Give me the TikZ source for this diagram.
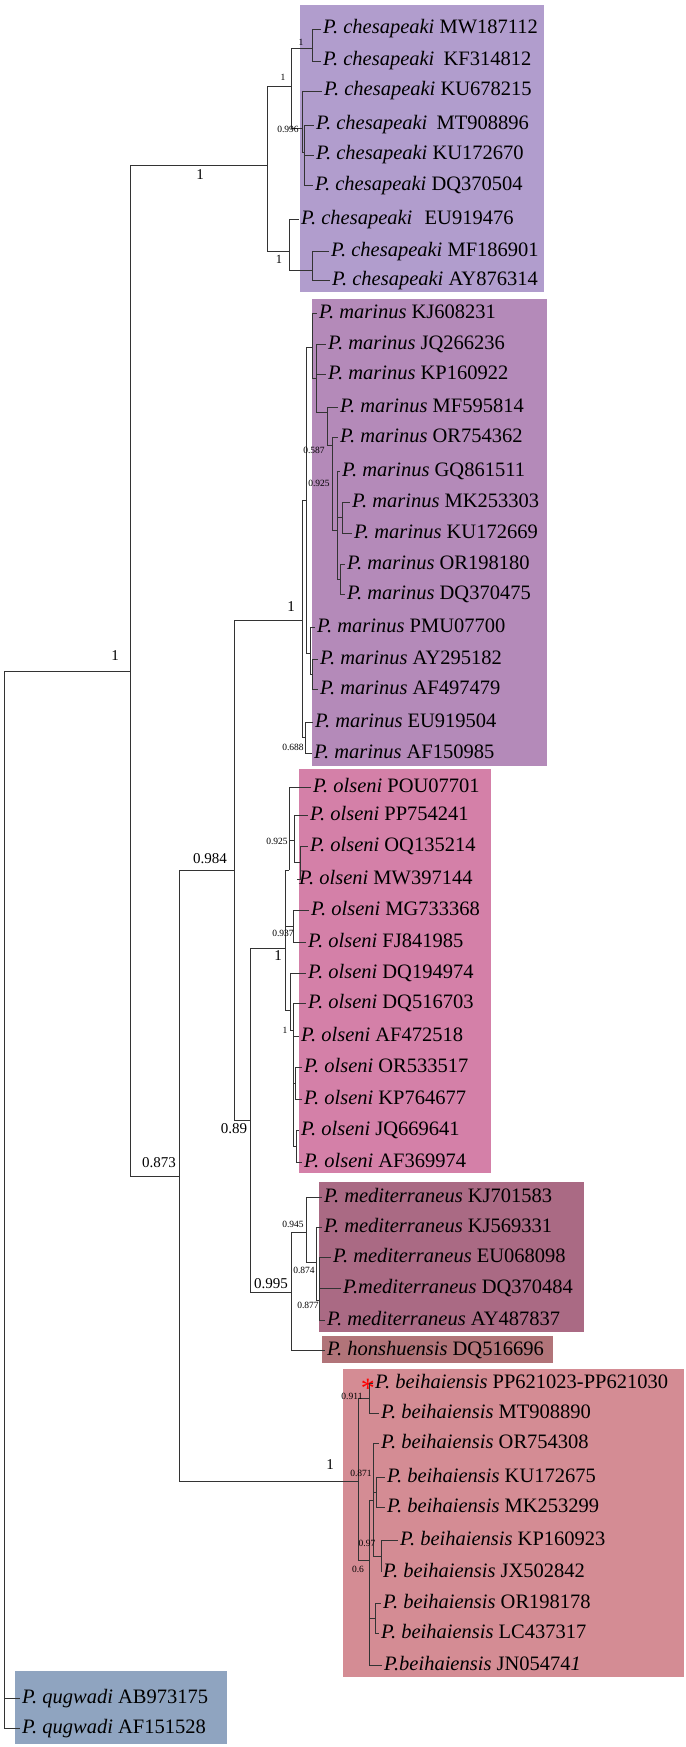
\documentclass[tikz,border=0pt]{standalone}
\usepackage{fontspec}
\setmainfont{Liberation Serif}
\usetikzlibrary{positioning}
\definecolor{chesa}{RGB}{177,157,205}
\definecolor{marin}{RGB}{180,138,185}
\definecolor{olsen}{RGB}{212,128,168}
\definecolor{medit}{RGB}{170,106,132}
\definecolor{honsh}{RGB}{177,116,121}
\definecolor{beihai}{RGB}{212,140,148}
\definecolor{qugw}{RGB}{143,164,192}

\begin{document}
\begin{tikzpicture}[
    x=1pt, y=-1pt,
    leaf/.style={anchor=west, xshift=-2pt, inner xsep=2pt, inner ysep=0pt, text height=14pt, text depth=4pt, font=\fontsize{20.5}{20.5}\selectfont},
    bs/.style={inner sep=0pt, font=\fontsize{15}{15}\selectfont},
    ms/.style={inner sep=0pt, font=\fontsize{12.5}{12.5}\selectfont},
    ss/.style={inner sep=0pt, font=\fontsize{9.5}{9.5}\selectfont},
    branch/.style={draw=black!80, line width=0.9pt}
]
\fill[white] (0,0) rectangle (685,1747);
\useasboundingbox (0,0) rectangle (685,1747);

% clade boxes
\fill[chesa] (300,5) rectangle (544,292);
\fill[marin] (312,299) rectangle (547,766);
\fill[olsen] (299,769) rectangle (491,1173);
\fill[medit] (319,1182) rectangle (584,1332);
\fill[honsh] (322,1336) rectangle (553,1363);
\fill[beihai] (343,1369) rectangle (684,1677);
\fill[qugw] (15,1671) rectangle (227,1744);

% leaves
\node[leaf] (c1) at (323,29) {\textit{P. chesapeaki} MW187112};
\node[leaf] (c2) at (323,61) {\textit{P. chesapeaki}\hspace{0.45em}KF314812};
\node[leaf] (c3) at (324,91) {\textit{P. chesapeaki} KU678215};
\node[leaf] (c4) at (316,125) {\textit{P. chesapeaki}\hspace{0.45em}MT908896};
\node[leaf] (c5) at (316,155) {\textit{P. chesapeaki} KU172670};
\node[leaf] (c6) at (315,185) {\textit{P. chesapeaki} DQ370504};
\node[leaf] (c7) at (301,219) {\textit{P. chesapeaki}\hspace{0.6em}EU919476};
\node[leaf] (c8) at (331,251) {\textit{P. chesapeaki} MF186901};
\node[leaf] (c9) at (332,280) {\textit{P. chesapeaki} AY876314};

\node[leaf] (m1) at (319,313) {\textit{P. marinus} KJ608231};
\node[leaf] (m2) at (328,344) {\textit{P. marinus} JQ266236};
\node[leaf] (m3) at (328,374) {\textit{P. marinus} KP160922};
\node[leaf] (m4) at (340,407) {\textit{P. marinus} MF595814};
\node[leaf] (m5) at (340,437) {\textit{P. marinus} OR754362};
\node[leaf] (m6) at (342,471) {\textit{P. marinus} GQ861511};
\node[leaf] (m7) at (352,502) {\textit{P. marinus} MK253303};
\node[leaf] (m8) at (354,533) {\textit{P. marinus} KU172669};
\node[leaf] (m9) at (347,564) {\textit{P. marinus} OR198180};
\node[leaf] (m10) at (347,594) {\textit{P. marinus} DQ370475};
\node[leaf] (m11) at (317,627) {\textit{P. marinus} PMU07700};
\node[leaf] (m12) at (320,659) {\textit{P. marinus} AY295182};
\node[leaf] (m13) at (320,689) {\textit{P. marinus} AF497479};
\node[leaf] (m14) at (315,722) {\textit{P. marinus} EU919504};
\node[leaf] (m15) at (314,753) {\textit{P. marinus} AF150985};

\node[leaf] (o1) at (313,787) {\textit{P. olseni} POU07701};
\node[leaf] (o2) at (310,815) {\textit{P. olseni} PP754241};
\node[leaf] (o3) at (310,846) {\textit{P. olseni} OQ135214};
\node[leaf] (o4) at (299,879) {\textit{P. olseni} MW397144};
\node[leaf] (o5) at (311,910) {\textit{P. olseni} MG733368};
\node[leaf] (o6) at (308,942) {\textit{P. olseni} FJ841985};
\node[leaf] (o7) at (308,973) {\textit{P. olseni} DQ194974};
\node[leaf] (o8) at (308,1003) {\textit{P. olseni} DQ516703};
\node[leaf] (o9) at (301,1036) {\textit{P. olseni} AF472518};
\node[leaf] (o10) at (304,1067) {\textit{P. olseni} OR533517};
\node[leaf] (o11) at (304,1099) {\textit{P. olseni} KP764677};
\node[leaf] (o12) at (301,1130) {\textit{P. olseni} JQ669641};
\node[leaf] (o13) at (304,1162) {\textit{P. olseni} AF369974};

\node[leaf] (d1) at (324,1197) {\textit{P. mediterraneus} KJ701583};
\node[leaf] (d2) at (324,1227) {\textit{P. mediterraneus} KJ569331};
\node[leaf] (d3) at (333,1257) {\textit{P. mediterraneus} EU068098};
\node[leaf] (d4) at (343,1288) {\textit{P.mediterraneus} DQ370484};
\node[leaf] (d5) at (327,1320) {\textit{P. mediterraneus} AY487837};
\node[leaf] (h1) at (327,1350) {\textit{P. honshuensis} DQ516696};

\node[leaf] (b1) at (375,1383) {\textit{P. beihaiensis} PP621023-PP621030};
\node[leaf] (b2) at (381,1413) {\textit{P. beihaiensis} MT908890};
\node[leaf] (b3) at (381,1443) {\textit{P. beihaiensis} OR754308};
\node[leaf] (b4) at (387,1477) {\textit{P. beihaiensis} KU172675};
\node[leaf] (b5) at (387,1507) {\textit{P. beihaiensis} MK253299};
\node[leaf] (b6) at (400,1540) {\textit{P. beihaiensis} KP160923};
\node[leaf] (b7) at (383,1572) {\textit{P. beihaiensis} JX502842};
\node[leaf] (b8) at (383,1603) {\textit{P. beihaiensis} OR198178};
\node[leaf] (b9) at (381,1633) {\textit{P. beihaiensis} LC437317};
\node[leaf] (b10) at (384,1665) {\textit{P.beihaiensis} JN05474\textit{1}};
\node[text=red, inner sep=0pt, anchor=east, font=\fontsize{28}{28}\selectfont] (star) at (375,1388) {*};

\node[leaf] (q1) at (22,1698) {\textit{P. qugwadi} AB973175};
\node[leaf] (q2) at (22,1728) {\textit{P. qugwadi} AF151528};

% internal nodes
\coordinate (R) at (4,671);
\coordinate (N1) at (130,671);
\coordinate (C) at (267,165);
\coordinate (B) at (291,86);
\coordinate (A) at (312,48);
\coordinate (E) at (302,128);
\coordinate (F) at (304,152);
\coordinate (D) at (289,251);
\coordinate (G) at (312,270);
\coordinate (N2) at (179,1176);
\coordinate (N3) at (234,870);
\coordinate (Ma0) at (302,620);
\coordinate (Ma1) at (306,500);
\coordinate (Ma2) at (312,347);
\coordinate (Ma3) at (316,378);
\coordinate (Ma4) at (327,412);
\coordinate (Ma5) at (332,445);
\coordinate (Ma6) at (337,530);
\coordinate (Mk) at (342,517);
\coordinate (Or) at (340,579);
\coordinate (Ma7) at (310,653);
\coordinate (Ay) at (312,674);
\coordinate (Ma9) at (305,737);
\coordinate (N4) at (250,1120);
\coordinate (O1) at (285,948);
\coordinate (O2) at (289,870);
\coordinate (O2a) at (294,840);
\coordinate (O2b) at (300,862);
\coordinate (O3) at (293,926);
\coordinate (O4) at (290,1010);
\coordinate (O5) at (293,1030);
\coordinate (O6) at (295,1083);
\coordinate (O7) at (296,1146);
\coordinate (N5) at (291,1292);
\coordinate (M1) at (306,1232);
\coordinate (M2) at (316,1262);
\coordinate (M3) at (319,1300);
\coordinate (BH) at (358,1481);
\coordinate (B1) at (369,1398);
\coordinate (B2) at (369,1560);
\coordinate (B3) at (373,1500);
\coordinate (B4) at (376,1492);
\coordinate (B5) at (381,1556);
\coordinate (B6) at (375,1618);

% branches
\foreach \p/\c in {R/N1, R/q1, R/q2, N1/C, N1/N2,
    C/B, C/D, B/A, B/E, A/c1, A/c2, E/c3, E/F, F/c4, F/c5, F/c6, D/c7, D/G, G/c8, G/c9,
    N2/N3, N2/BH, N3/Ma0, N3/N4,
    Ma0/Ma1, Ma0/Ma9, Ma1/Ma2, Ma1/Ma7, Ma2/m1, Ma2/Ma3, Ma3/m2, Ma3/m3, Ma3/Ma4,
    Ma4/m4, Ma4/Ma5, Ma5/m5, Ma5/Ma6, Ma6/m6, Ma6/Mk, Ma6/Or, Mk/m7, Mk/m8, Or/m9, Or/m10,
    Ma7/m11, Ma7/Ay, Ay/m12, Ay/m13, Ma9/m14, Ma9/m15,
    N4/O1, N4/N5, O1/O2, O1/O3, O1/O4, O2/o1, O2/O2a, O2a/o2, O2a/O2b, O2b/o3, O2b/o4,
    O3/o5, O3/o6, O4/o7, O4/O5, O5/o8, O5/o9, O5/O6, O5/O7, O6/o10, O6/o11, O7/o12, O7/o13,
    N5/M1, N5/h1, M1/d1, M1/M2, M2/d2, M2/M3, M3/d3, M3/d4, M3/d5,
    BH/B1, BH/B2, B1/b1, B1/b2, B2/B3, B2/B6, B2/b10, B3/b3, B3/B4, B3/B5,
    B4/b4, B4/b5, B5/b6, B5/b7, B6/b8, B6/b9}
    \draw[branch] (\p) |- (\c);

% support values
\node[bs] (l1) at (115,656) {1};
\node[bs] (l2) at (200,175) {1};
\node[ss] (l3) at (301,42) {1};
\node[ss] (l4) at (283,77) {1};
\node[ss] (l5) at (288,129) {0.996};
\node[ms] (l6) at (279,259) {1};
\node[bs] (l7) at (159,1163) {0.873};
\node[bs] (l8) at (210,859) {0.984};
\node[bs] (l9) at (291,607) {1};
\node[ss] (l10) at (314,450) {0.587};
\node[ss] (l11) at (319,483) {0.925};
\node[ss] (l12) at (293,747) {0.688};
\node[bs] (l13) at (234,1129) {0.89};
\node[bs] (l14) at (278,956) {1};
\node[ss] (l15) at (277,841) {0.925};
\node[ss] (l16) at (283,933) {0.937};
\node[ss] (l17) at (285,1030) {1};
\node[bs] (l18) at (271,1284) {0.995};
\node[ss] (l19) at (293,1224) {0.945};
\node[ss] (l20) at (304,1270) {0.874};
\node[ss] (l21) at (308,1305) {0.877};
\node[bs] (l22) at (330,1465) {1};
\node[ss] (l23) at (352,1396) {0.911};
\node[ss] (l24) at (361,1473) {0.871};
\node[ss] (l25) at (367,1543) {0.97};
\node[ss] (l26) at (358,1569) {0.6};
\end{tikzpicture}
\end{document}
